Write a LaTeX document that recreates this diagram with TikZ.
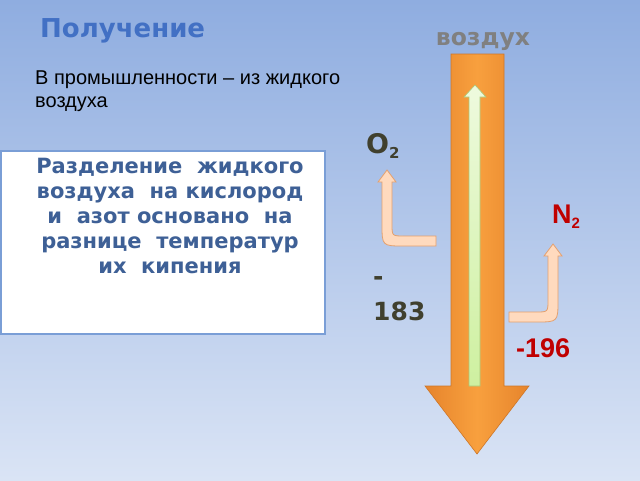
\documentclass[tikz,border=0pt]{standalone}
\usepackage{fontspec}
\setmainfont{Liberation Sans}
\newfontfamily\dejavu{DejaVu Sans}
\newcommand{\fsz}[2]{\fontsize{#1}{#2}\selectfont}
\newcommand{\subtwo}[1]{\raisebox{#1}{\fsz{15}{15}2}}
\definecolor{bgtop}{RGB}{143,173,224}
\definecolor{bgbot}{RGB}{218,228,245}
\definecolor{titleblue}{RGB}{66,112,196}
\definecolor{oredge}{RGB}{230,132,44}
\definecolor{ormid}{RGB}{248,160,62}
\definecolor{orline}{RGB}{205,118,40}
\definecolor{gtop}{RGB}{238,250,222}
\definecolor{gbot}{RGB}{206,240,160}
\definecolor{gline}{RGB}{170,200,120}
\definecolor{peach}{RGB}{255,218,190}
\definecolor{peachline}{RGB}{228,160,110}
\definecolor{olive}{RGB}{64,64,46}
\definecolor{darkred}{RGB}{192,0,0}
\definecolor{boxblue}{RGB}{62,96,150}
\definecolor{boxline}{RGB}{122,158,214}

\begin{document}
\begin{tikzpicture}[x=1pt, y=-1pt]
  \tikzset{
    label text/.style={inner sep=0pt, anchor=base west},
    peach arrow/.style={fill=peach, draw=peachline, line width=0.8pt},
    big arrow/.style={left color=oredge, right color=oredge, middle color=ormid,
      draw=orline, line width=0.6pt},
    inner arrow/.style={top color=gtop, bottom color=gbot, draw=gline, line width=0.6pt}
  }
  \useasboundingbox (0,0) rectangle (640,480);
  \shade[top color=bgtop, bottom color=bgbot] (0,0) rectangle (640,480);
  % title and lead text
  \node[label text, text=titleblue] (title) at (40,37)
    {\dejavu\bfseries\fsz{26}{26}Получение};
  \node[label text, align=left, font=\fsz{20}{23}] (lead) at (35,107)
    {В промышленности – из жидкого\\воздуха};
  % box
  \draw[fill=white, draw=boxline, line width=2pt] (1,151) rectangle (325,334);
  \node[inner sep=0pt, anchor=north, align=center, text=boxblue,
    font=\dejavu\bfseries\fsz{21}{25}] (sep) at (170,158)
    {Разделение~ жидкого\\
     воздуха~ на кислород\\
     и~ азот основано~ на\\
     разнице~ температур\\
     их~ кипения};
  % column
  \node[label text, anchor=base, text=gray] (air) at (483,45)
    {\dejavu\bfseries\fsz{23.5}{23.5}воздух};
  \draw[big arrow] (451,54) -- (504,54) -- (504,386) -- (529,386) -- (477,454)
    -- (425,386) -- (451,386) -- cycle;
  \draw[inner arrow] (469,386) -- (469,97) -- (464,97) -- (475,85) -- (486,97)
    -- (480,97) -- (480,386) -- cycle;
  % oxygen
  \draw[peach arrow] (436,236) -- (404,236) .. controls (392,236) .. (392,224)
    -- (392,182) -- (396,182) -- (387,170) -- (378,182) -- (382,182)
    -- (382,224) .. controls (382,246) .. (404,246) -- (436,246) -- cycle;
  \node[label text, text=olive] (oxy) at (366,153)
    {\dejavu\bfseries\fsz{27}{27}O\subtwo{-5pt}};
  \node[label text, align=left, text=olive, font=\dejavu\bfseries\fsz{25}{35}] (t183)
    at (373,320) {-\\183};
  % nitrogen
  \draw[peach arrow] (509,312) -- (536,312) .. controls (548,312) .. (548,300)
    -- (548,256) -- (544,256) -- (553,244) -- (562,256) -- (558,256)
    -- (558,300) .. controls (558,322) .. (536,322) -- (509,322) -- cycle;
  \node[label text, text=darkred] (nitro) at (552,223)
    {\bfseries\fsz{27}{27}N\subtwo{-5pt}};
  \node[label text, text=darkred] (t196) at (516,357)
    {\bfseries\fsz{27}{27}-196};
\end{tikzpicture}
\end{document}
